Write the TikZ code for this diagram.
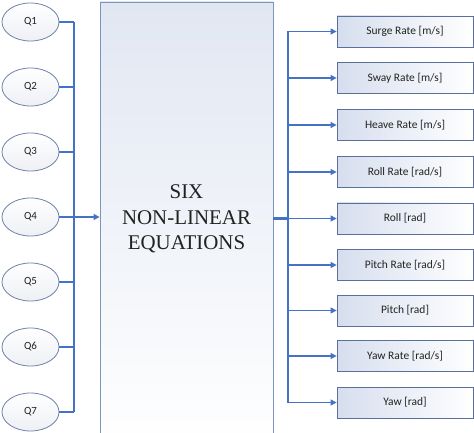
\documentclass[tikz,border=0pt]{standalone}
\usepackage{fontspec}
\setmainfont{Carlito}
\newfontfamily\serifeq{Liberation Serif}
\usetikzlibrary{arrows.meta,shapes.geometric}
\definecolor{linec}{HTML}{4472C4}
\definecolor{ellb}{HTML}{6F80A8}
\definecolor{boxb}{HTML}{5B6F9E}
\definecolor{eqb}{HTML}{7F93C0}
\definecolor{boxf}{HTML}{D6DEEE}
\definecolor{eqf}{HTML}{E1E7F2}
\definecolor{txt}{HTML}{222222}
\tikzset{
  qell/.style={ellipse, draw=ellb, line width=0.8pt, top color=white, bottom color=white!88!ellb,
    minimum width=57bp, minimum height=38bp, inner sep=0pt, text=txt, font=\fontsize{11}{13}\selectfont},
  obox/.style={rectangle, draw=boxb, line width=0.8pt, left color=boxf, right color=white,
    minimum width=136bp, minimum height=31bp, inner sep=0pt, text=txt, font=\fontsize{11.5}{13}\selectfont},
  conn/.style={draw=linec, line width=1.1pt},
  thickconn/.style={draw=linec, line width=2.4pt},
  arr/.style={draw=linec, line width=1.1pt, -{Triangle[length=6bp,width=6bp]}},
}
\begin{document}
\begin{tikzpicture}[x=1bp,y=-1bp]
\useasboundingbox (0,0) rectangle (474,433);
\clip (0,0) rectangle (474,433);
% central box
\node[rectangle, draw=eqb, line width=0.8pt, top color=eqf, bottom color=white,
  minimum width=173bp, minimum height=445bp, inner sep=0pt] (eq) at (186.5,224.5) {};
\node[font=\serifeq\fontsize{21}{25.5}\selectfont, align=center, text=txt] (eqtext) at (186.5,219)
  {SIX\\NON-LINEAR\\EQUATIONS};
% inputs
\foreach \i/\y in {1/22,2/87,3/152,4/217,5/282,6/347,7/412}{
  \node[qell] (q\i) at (30.5,\y) {Q\i};
}
\coordinate (bl) at (74,0);
\foreach \i in {1,2,3,5,6,7}{
  \draw[conn] (q\i.east) -- (q\i.east -| bl);
}
\draw[conn] (q1.east -| bl) -- (q7.east -| bl);
\draw[arr] (q4.east) -- (q4.east -| eq.west);
% outputs
\foreach \i/\y/\t in {1/31.5/{Surge Rate [m/s]},2/78/{Sway Rate [m/s]},3/125/{Heave Rate [m/s]},
  4/172/{Roll Rate [rad/s]},5/218.5/{Roll [rad]},6/265/{Pitch Rate [rad/s]},7/310.5/{Pitch [rad]},
  8/356/{Yaw Rate [rad/s]},9/402.5/{Yaw [rad]}}{
  \node[obox] (o\i) at (405,\y) {\t};
}
\coordinate (br) at (288,0);
\draw[thickconn] (o5.west -| eq.east) -- (o5.west -| br);
\draw[conn] (o1.west -| br) -- (o9.west -| br);
\foreach \i in {1,...,9}{
  \draw[arr] (o\i.west -| br) -- (o\i.west);
}
\end{tikzpicture}
\end{document}
